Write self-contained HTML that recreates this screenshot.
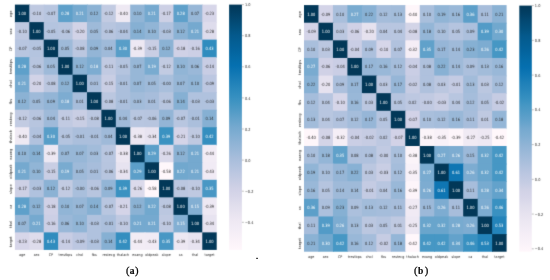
<!DOCTYPE html>
<html><head><meta charset="utf-8"><style>
html,body{margin:0;padding:0;background:#fff;}
body{width:550px;height:280px;overflow:hidden;}
svg{display:block;}
#w{width:550px;height:280px;}
.ann{font-family:"DejaVu Sans",sans-serif;font-size:40px;text-anchor:middle;stroke-width:0.000px;}
.lab{font-family:"DejaVu Sans",sans-serif;font-size:3.6px;fill:#262626;}
.xl{text-anchor:middle;}
.yl{text-anchor:middle;}
.cbl{font-family:"DejaVu Sans",sans-serif;font-size:3.9px;fill:#262626;}
.cap{font-family:"Liberation Serif",serif;font-weight:bold;font-size:10.9px;fill:#000;stroke:#000;stroke-width:0.15px;}
.par{font-family:"Liberation Serif",serif;font-size:10.6px;fill:#000;stroke:#000;stroke-width:0.25px;}
</style></head><body><div id="w">
<svg width="550" height="280" viewBox="0 0 550 280">
<defs><linearGradient id="gL" x1="0" y1="0" x2="0" y2="1"><stop offset="0.0000" stop-color="#023858"/><stop offset="0.0312" stop-color="#023f64"/><stop offset="0.0625" stop-color="#034871"/><stop offset="0.0938" stop-color="#03517e"/><stop offset="0.1250" stop-color="#04598c"/><stop offset="0.1562" stop-color="#045f95"/><stop offset="0.1875" stop-color="#04649e"/><stop offset="0.2188" stop-color="#056ba7"/><stop offset="0.2500" stop-color="#0570b0"/><stop offset="0.2812" stop-color="#1278b4"/><stop offset="0.3125" stop-color="#1e80b8"/><stop offset="0.3438" stop-color="#2a88bc"/><stop offset="0.3750" stop-color="#358fc0"/><stop offset="0.4062" stop-color="#4496c3"/><stop offset="0.4375" stop-color="#549cc7"/><stop offset="0.4688" stop-color="#65a3cb"/><stop offset="0.5000" stop-color="#75a9cf"/><stop offset="0.5312" stop-color="#81aed2"/><stop offset="0.5625" stop-color="#8eb3d5"/><stop offset="0.5938" stop-color="#9ab8d8"/><stop offset="0.6250" stop-color="#a7bddb"/><stop offset="0.6562" stop-color="#b1c2de"/><stop offset="0.6875" stop-color="#bcc7e1"/><stop offset="0.7188" stop-color="#c6cce3"/><stop offset="0.7500" stop-color="#d0d1e6"/><stop offset="0.7812" stop-color="#d7d6e9"/><stop offset="0.8125" stop-color="#dfddec"/><stop offset="0.8438" stop-color="#e6e2ef"/><stop offset="0.8750" stop-color="#ede7f2"/><stop offset="0.9062" stop-color="#f1ebf5"/><stop offset="0.9375" stop-color="#f6eff7"/><stop offset="0.9688" stop-color="#fbf3f9"/><stop offset="1.0000" stop-color="#fff7fb"/></linearGradient><linearGradient id="gR" x1="0" y1="0" x2="0" y2="1"><stop offset="0.0000" stop-color="#023858"/><stop offset="0.0312" stop-color="#023f64"/><stop offset="0.0625" stop-color="#034973"/><stop offset="0.0938" stop-color="#03517e"/><stop offset="0.1250" stop-color="#045a8d"/><stop offset="0.1562" stop-color="#045f95"/><stop offset="0.1875" stop-color="#04649e"/><stop offset="0.2188" stop-color="#056ba7"/><stop offset="0.2500" stop-color="#056faf"/><stop offset="0.2812" stop-color="#1077b4"/><stop offset="0.3125" stop-color="#1e80b8"/><stop offset="0.3438" stop-color="#2987bc"/><stop offset="0.3750" stop-color="#358fc0"/><stop offset="0.4062" stop-color="#4697c4"/><stop offset="0.4375" stop-color="#549cc7"/><stop offset="0.4688" stop-color="#63a2cb"/><stop offset="0.5000" stop-color="#75a9cf"/><stop offset="0.5312" stop-color="#80aed2"/><stop offset="0.5625" stop-color="#8eb3d5"/><stop offset="0.5938" stop-color="#9ab8d8"/><stop offset="0.6250" stop-color="#a5bddb"/><stop offset="0.6562" stop-color="#b1c2de"/><stop offset="0.6875" stop-color="#bcc7e1"/><stop offset="0.7188" stop-color="#c5cce3"/><stop offset="0.7500" stop-color="#d1d2e6"/><stop offset="0.7812" stop-color="#d7d6e9"/><stop offset="0.8125" stop-color="#dfddec"/><stop offset="0.8438" stop-color="#e6e2ef"/><stop offset="0.8750" stop-color="#ece7f2"/><stop offset="0.9062" stop-color="#f1ebf5"/><stop offset="0.9375" stop-color="#f6eff7"/><stop offset="0.9688" stop-color="#faf3f9"/><stop offset="1.0000" stop-color="#fff7fb"/></linearGradient><filter id="sf" x="0" y="0" width="550" height="280" filterUnits="userSpaceOnUse" color-interpolation-filters="sRGB"><feConvolveMatrix order="3" kernelMatrix="0.0100 0.0800 0.0100 0.0800 0.6400 0.0800 0.0100 0.0800 0.0100" edgeMode="duplicate"/></filter><filter id="tf" x="0" y="0" width="550" height="280" filterUnits="userSpaceOnUse" color-interpolation-filters="sRGB"><feConvolveMatrix order="3" kernelMatrix="0.0144 0.0912 0.0144 0.0912 0.5776 0.0912 0.0144 0.0912 0.0144" edgeMode="none"/></filter></defs>
<g filter="url(#sf)">
<rect width="550" height="280" fill="#fff"/>
<rect x="14.90" y="4.60" width="15.21" height="18.32" fill="#023858"/><rect x="29.31" y="4.60" width="15.21" height="18.32" fill="#bfc9e1"/><rect x="43.73" y="4.60" width="15.21" height="18.32" fill="#b8c6e0"/><rect x="58.14" y="4.60" width="15.21" height="18.32" fill="#5ea0ca"/><rect x="72.56" y="4.60" width="15.21" height="18.32" fill="#75a9cf"/><rect x="86.97" y="4.60" width="15.21" height="18.32" fill="#8bb2d4"/><rect x="101.39" y="4.60" width="15.21" height="18.32" fill="#c2cbe2"/><rect x="115.80" y="4.60" width="15.21" height="18.32" fill="#eee9f3"/><rect x="130.21" y="4.60" width="15.21" height="18.32" fill="#91b5d6"/><rect x="144.63" y="4.60" width="15.21" height="18.32" fill="#75a9cf"/><rect x="159.04" y="4.60" width="15.21" height="18.32" fill="#cdd0e5"/><rect x="173.46" y="4.60" width="15.21" height="18.32" fill="#5ea0ca"/><rect x="187.87" y="4.60" width="15.21" height="18.32" fill="#97b7d7"/><rect x="202.29" y="4.60" width="14.41" height="18.32" fill="#d7d6e9"/><rect x="14.90" y="22.12" width="15.21" height="18.32" fill="#bfc9e1"/><rect x="29.31" y="22.12" width="15.21" height="18.32" fill="#023858"/><rect x="43.73" y="22.12" width="15.21" height="18.32" fill="#b4c4df"/><rect x="58.14" y="22.12" width="15.21" height="18.32" fill="#b7c5df"/><rect x="72.56" y="22.12" width="15.21" height="18.32" fill="#d2d3e7"/><rect x="86.97" y="22.12" width="15.21" height="18.32" fill="#9ebad9"/><rect x="101.39" y="22.12" width="15.21" height="18.32" fill="#b7c5df"/><rect x="115.80" y="22.12" width="15.21" height="18.32" fill="#b1c2de"/><rect x="130.21" y="22.12" width="15.21" height="18.32" fill="#86b0d3"/><rect x="144.63" y="22.12" width="15.21" height="18.32" fill="#91b5d6"/><rect x="159.04" y="22.12" width="15.21" height="18.32" fill="#b0c2de"/><rect x="173.46" y="22.12" width="15.21" height="18.32" fill="#8bb2d4"/><rect x="187.87" y="22.12" width="15.21" height="18.32" fill="#75a9cf"/><rect x="202.29" y="22.12" width="14.41" height="18.32" fill="#dedcec"/><rect x="14.90" y="39.64" width="15.21" height="18.32" fill="#b8c6e0"/><rect x="29.31" y="39.64" width="15.21" height="18.32" fill="#b4c4df"/><rect x="43.73" y="39.64" width="15.21" height="18.32" fill="#023858"/><rect x="58.14" y="39.64" width="15.21" height="18.32" fill="#9ebad9"/><rect x="72.56" y="39.64" width="15.21" height="18.32" fill="#bbc7e0"/><rect x="86.97" y="39.64" width="15.21" height="18.32" fill="#93b5d6"/><rect x="101.39" y="39.64" width="15.21" height="18.32" fill="#9fbad9"/><rect x="115.80" y="39.64" width="15.21" height="18.32" fill="#589ec8"/><rect x="130.21" y="39.64" width="15.21" height="18.32" fill="#ede8f3"/><rect x="144.63" y="39.64" width="15.21" height="18.32" fill="#c9cee4"/><rect x="159.04" y="39.64" width="15.21" height="18.32" fill="#8bb2d4"/><rect x="173.46" y="39.64" width="15.21" height="18.32" fill="#d0d1e6"/><rect x="187.87" y="39.64" width="15.21" height="18.32" fill="#cccfe5"/><rect x="202.29" y="39.64" width="14.41" height="18.32" fill="#308cbe"/><rect x="14.90" y="57.16" width="15.21" height="18.32" fill="#5ea0ca"/><rect x="29.31" y="57.16" width="15.21" height="18.32" fill="#b7c5df"/><rect x="43.73" y="57.16" width="15.21" height="18.32" fill="#9ebad9"/><rect x="58.14" y="57.16" width="15.21" height="18.32" fill="#023858"/><rect x="72.56" y="57.16" width="15.21" height="18.32" fill="#8bb2d4"/><rect x="86.97" y="57.16" width="15.21" height="18.32" fill="#7dacd1"/><rect x="101.39" y="57.16" width="15.21" height="18.32" fill="#c1cae2"/><rect x="115.80" y="57.16" width="15.21" height="18.32" fill="#b4c4df"/><rect x="130.21" y="57.16" width="15.21" height="18.32" fill="#97b7d7"/><rect x="144.63" y="57.16" width="15.21" height="18.32" fill="#79abd0"/><rect x="159.04" y="57.16" width="15.21" height="18.32" fill="#c2cbe2"/><rect x="173.46" y="57.16" width="15.21" height="18.32" fill="#91b5d6"/><rect x="187.87" y="57.16" width="15.21" height="18.32" fill="#9ab8d8"/><rect x="202.29" y="57.16" width="14.41" height="18.32" fill="#c8cde4"/><rect x="14.90" y="74.69" width="15.21" height="18.32" fill="#75a9cf"/><rect x="29.31" y="74.69" width="15.21" height="18.32" fill="#d2d3e7"/><rect x="43.73" y="74.69" width="15.21" height="18.32" fill="#bbc7e0"/><rect x="58.14" y="74.69" width="15.21" height="18.32" fill="#8bb2d4"/><rect x="72.56" y="74.69" width="15.21" height="18.32" fill="#023858"/><rect x="86.97" y="74.69" width="15.21" height="18.32" fill="#a7bddb"/><rect x="101.39" y="74.69" width="15.21" height="18.32" fill="#c9cee4"/><rect x="115.80" y="74.69" width="15.21" height="18.32" fill="#abbfdc"/><rect x="130.21" y="74.69" width="15.21" height="18.32" fill="#97b7d7"/><rect x="144.63" y="74.69" width="15.21" height="18.32" fill="#9ebad9"/><rect x="159.04" y="74.69" width="15.21" height="18.32" fill="#a9bfdc"/><rect x="173.46" y="74.69" width="15.21" height="18.32" fill="#97b7d7"/><rect x="187.87" y="74.69" width="15.21" height="18.32" fill="#91b5d6"/><rect x="202.29" y="74.69" width="14.41" height="18.32" fill="#bcc7e1"/><rect x="14.90" y="92.21" width="15.21" height="18.32" fill="#8bb2d4"/><rect x="29.31" y="92.21" width="15.21" height="18.32" fill="#9ebad9"/><rect x="43.73" y="92.21" width="15.21" height="18.32" fill="#93b5d6"/><rect x="58.14" y="92.21" width="15.21" height="18.32" fill="#7dacd1"/><rect x="72.56" y="92.21" width="15.21" height="18.32" fill="#a7bddb"/><rect x="86.97" y="92.21" width="15.21" height="18.32" fill="#023858"/><rect x="101.39" y="92.21" width="15.21" height="18.32" fill="#bbc7e0"/><rect x="115.80" y="92.21" width="15.21" height="18.32" fill="#abbfdc"/><rect x="130.21" y="92.21" width="15.21" height="18.32" fill="#a2bcda"/><rect x="144.63" y="92.21" width="15.21" height="18.32" fill="#a7bddb"/><rect x="159.04" y="92.21" width="15.21" height="18.32" fill="#b7c5df"/><rect x="173.46" y="92.21" width="15.21" height="18.32" fill="#86b0d3"/><rect x="187.87" y="92.21" width="15.21" height="18.32" fill="#b0c2de"/><rect x="202.29" y="92.21" width="14.41" height="18.32" fill="#b0c2de"/><rect x="14.90" y="109.73" width="15.21" height="18.32" fill="#c2cbe2"/><rect x="29.31" y="109.73" width="15.21" height="18.32" fill="#b7c5df"/><rect x="43.73" y="109.73" width="15.21" height="18.32" fill="#9fbad9"/><rect x="58.14" y="109.73" width="15.21" height="18.32" fill="#c1cae2"/><rect x="72.56" y="109.73" width="15.21" height="18.32" fill="#c9cee4"/><rect x="86.97" y="109.73" width="15.21" height="18.32" fill="#bbc7e0"/><rect x="101.39" y="109.73" width="15.21" height="18.32" fill="#023858"/><rect x="115.80" y="109.73" width="15.21" height="18.32" fill="#9fbad9"/><rect x="130.21" y="109.73" width="15.21" height="18.32" fill="#b8c6e0"/><rect x="144.63" y="109.73" width="15.21" height="18.32" fill="#b7c5df"/><rect x="159.04" y="109.73" width="15.21" height="18.32" fill="#93b5d6"/><rect x="173.46" y="109.73" width="15.21" height="18.32" fill="#b8c6e0"/><rect x="187.87" y="109.73" width="15.21" height="18.32" fill="#abbfdc"/><rect x="202.29" y="109.73" width="14.41" height="18.32" fill="#86b0d3"/><rect x="14.90" y="127.25" width="15.21" height="18.32" fill="#eee9f3"/><rect x="29.31" y="127.25" width="15.21" height="18.32" fill="#b1c2de"/><rect x="43.73" y="127.25" width="15.21" height="18.32" fill="#589ec8"/><rect x="58.14" y="127.25" width="15.21" height="18.32" fill="#b4c4df"/><rect x="72.56" y="127.25" width="15.21" height="18.32" fill="#abbfdc"/><rect x="86.97" y="127.25" width="15.21" height="18.32" fill="#abbfdc"/><rect x="101.39" y="127.25" width="15.21" height="18.32" fill="#9fbad9"/><rect x="115.80" y="127.25" width="15.21" height="18.32" fill="#023858"/><rect x="130.21" y="127.25" width="15.21" height="18.32" fill="#ece7f2"/><rect x="144.63" y="127.25" width="15.21" height="18.32" fill="#e7e3f0"/><rect x="159.04" y="127.25" width="15.21" height="18.32" fill="#3b92c1"/><rect x="173.46" y="127.25" width="15.21" height="18.32" fill="#d4d4e8"/><rect x="187.87" y="127.25" width="15.21" height="18.32" fill="#bfc9e1"/><rect x="202.29" y="127.25" width="14.41" height="18.32" fill="#348ebf"/><rect x="14.90" y="144.77" width="15.21" height="18.32" fill="#91b5d6"/><rect x="29.31" y="144.77" width="15.21" height="18.32" fill="#86b0d3"/><rect x="43.73" y="144.77" width="15.21" height="18.32" fill="#ede8f3"/><rect x="58.14" y="144.77" width="15.21" height="18.32" fill="#97b7d7"/><rect x="72.56" y="144.77" width="15.21" height="18.32" fill="#97b7d7"/><rect x="86.97" y="144.77" width="15.21" height="18.32" fill="#a2bcda"/><rect x="101.39" y="144.77" width="15.21" height="18.32" fill="#b8c6e0"/><rect x="115.80" y="144.77" width="15.21" height="18.32" fill="#ece7f2"/><rect x="130.21" y="144.77" width="15.21" height="18.32" fill="#023858"/><rect x="144.63" y="144.77" width="15.21" height="18.32" fill="#5c9fc9"/><rect x="159.04" y="144.77" width="15.21" height="18.32" fill="#dbdaeb"/><rect x="173.46" y="144.77" width="15.21" height="18.32" fill="#8bb2d4"/><rect x="187.87" y="144.77" width="15.21" height="18.32" fill="#75a9cf"/><rect x="202.29" y="144.77" width="14.41" height="18.32" fill="#f2ecf5"/><rect x="14.90" y="162.29" width="15.21" height="18.32" fill="#75a9cf"/><rect x="29.31" y="162.29" width="15.21" height="18.32" fill="#91b5d6"/><rect x="43.73" y="162.29" width="15.21" height="18.32" fill="#c9cee4"/><rect x="58.14" y="162.29" width="15.21" height="18.32" fill="#79abd0"/><rect x="72.56" y="162.29" width="15.21" height="18.32" fill="#9ebad9"/><rect x="86.97" y="162.29" width="15.21" height="18.32" fill="#a7bddb"/><rect x="101.39" y="162.29" width="15.21" height="18.32" fill="#b7c5df"/><rect x="115.80" y="162.29" width="15.21" height="18.32" fill="#e7e3f0"/><rect x="130.21" y="162.29" width="15.21" height="18.32" fill="#5c9fc9"/><rect x="144.63" y="162.29" width="15.21" height="18.32" fill="#023858"/><rect x="159.04" y="162.29" width="15.21" height="18.32" fill="#fff7fb"/><rect x="173.46" y="162.29" width="15.21" height="18.32" fill="#71a8ce"/><rect x="187.87" y="162.29" width="15.21" height="18.32" fill="#75a9cf"/><rect x="202.29" y="162.29" width="14.41" height="18.32" fill="#f1ebf5"/><rect x="14.90" y="179.81" width="15.21" height="18.32" fill="#cdd0e5"/><rect x="29.31" y="179.81" width="15.21" height="18.32" fill="#b0c2de"/><rect x="43.73" y="179.81" width="15.21" height="18.32" fill="#8bb2d4"/><rect x="58.14" y="179.81" width="15.21" height="18.32" fill="#c2cbe2"/><rect x="72.56" y="179.81" width="15.21" height="18.32" fill="#a9bfdc"/><rect x="86.97" y="179.81" width="15.21" height="18.32" fill="#b7c5df"/><rect x="101.39" y="179.81" width="15.21" height="18.32" fill="#93b5d6"/><rect x="115.80" y="179.81" width="15.21" height="18.32" fill="#3b92c1"/><rect x="130.21" y="179.81" width="15.21" height="18.32" fill="#dbdaeb"/><rect x="144.63" y="179.81" width="15.21" height="18.32" fill="#fff7fb"/><rect x="159.04" y="179.81" width="15.21" height="18.32" fill="#023858"/><rect x="173.46" y="179.81" width="15.21" height="18.32" fill="#bbc7e0"/><rect x="187.87" y="179.81" width="15.21" height="18.32" fill="#bfc9e1"/><rect x="202.29" y="179.81" width="14.41" height="18.32" fill="#4897c4"/><rect x="14.90" y="197.34" width="15.21" height="18.32" fill="#5ea0ca"/><rect x="29.31" y="197.34" width="15.21" height="18.32" fill="#8bb2d4"/><rect x="43.73" y="197.34" width="15.21" height="18.32" fill="#d0d1e6"/><rect x="58.14" y="197.34" width="15.21" height="18.32" fill="#91b5d6"/><rect x="72.56" y="197.34" width="15.21" height="18.32" fill="#97b7d7"/><rect x="86.97" y="197.34" width="15.21" height="18.32" fill="#86b0d3"/><rect x="101.39" y="197.34" width="15.21" height="18.32" fill="#b8c6e0"/><rect x="115.80" y="197.34" width="15.21" height="18.32" fill="#d4d4e8"/><rect x="130.21" y="197.34" width="15.21" height="18.32" fill="#8bb2d4"/><rect x="144.63" y="197.34" width="15.21" height="18.32" fill="#71a8ce"/><rect x="159.04" y="197.34" width="15.21" height="18.32" fill="#bbc7e0"/><rect x="173.46" y="197.34" width="15.21" height="18.32" fill="#023858"/><rect x="187.87" y="197.34" width="15.21" height="18.32" fill="#83afd3"/><rect x="202.29" y="197.34" width="14.41" height="18.32" fill="#ede8f3"/><rect x="14.90" y="214.86" width="15.21" height="18.32" fill="#97b7d7"/><rect x="29.31" y="214.86" width="15.21" height="18.32" fill="#75a9cf"/><rect x="43.73" y="214.86" width="15.21" height="18.32" fill="#cccfe5"/><rect x="58.14" y="214.86" width="15.21" height="18.32" fill="#9ab8d8"/><rect x="72.56" y="214.86" width="15.21" height="18.32" fill="#91b5d6"/><rect x="86.97" y="214.86" width="15.21" height="18.32" fill="#b0c2de"/><rect x="101.39" y="214.86" width="15.21" height="18.32" fill="#abbfdc"/><rect x="115.80" y="214.86" width="15.21" height="18.32" fill="#bfc9e1"/><rect x="130.21" y="214.86" width="15.21" height="18.32" fill="#75a9cf"/><rect x="144.63" y="214.86" width="15.21" height="18.32" fill="#75a9cf"/><rect x="159.04" y="214.86" width="15.21" height="18.32" fill="#bfc9e1"/><rect x="173.46" y="214.86" width="15.21" height="18.32" fill="#83afd3"/><rect x="187.87" y="214.86" width="15.21" height="18.32" fill="#023858"/><rect x="202.29" y="214.86" width="14.41" height="18.32" fill="#e7e3f0"/><rect x="14.90" y="232.38" width="15.21" height="17.52" fill="#d7d6e9"/><rect x="29.31" y="232.38" width="15.21" height="17.52" fill="#dedcec"/><rect x="43.73" y="232.38" width="15.21" height="17.52" fill="#308cbe"/><rect x="58.14" y="232.38" width="15.21" height="17.52" fill="#c8cde4"/><rect x="72.56" y="232.38" width="15.21" height="17.52" fill="#bcc7e1"/><rect x="86.97" y="232.38" width="15.21" height="17.52" fill="#b0c2de"/><rect x="101.39" y="232.38" width="15.21" height="17.52" fill="#86b0d3"/><rect x="115.80" y="232.38" width="15.21" height="17.52" fill="#348ebf"/><rect x="130.21" y="232.38" width="15.21" height="17.52" fill="#f2ecf5"/><rect x="144.63" y="232.38" width="15.21" height="17.52" fill="#f1ebf5"/><rect x="159.04" y="232.38" width="15.21" height="17.52" fill="#4897c4"/><rect x="173.46" y="232.38" width="15.21" height="17.52" fill="#ede8f3"/><rect x="187.87" y="232.38" width="15.21" height="17.52" fill="#e7e3f0"/><rect x="202.29" y="232.38" width="14.41" height="17.52" fill="#023858"/><rect x="229.10" y="4.60" width="12.80" height="245.30" fill="url(#gL)"/>
<rect x="304.00" y="5.10" width="15.27" height="18.41" fill="#023858"/><rect x="318.47" y="5.10" width="15.27" height="18.41" fill="#d4d4e8"/><rect x="332.94" y="5.10" width="15.27" height="18.41" fill="#a9bfdc"/><rect x="347.41" y="5.10" width="15.27" height="18.41" fill="#79abd0"/><rect x="361.89" y="5.10" width="15.27" height="18.41" fill="#88b1d4"/><rect x="376.36" y="5.10" width="15.27" height="18.41" fill="#a5bddb"/><rect x="390.83" y="5.10" width="15.27" height="18.41" fill="#a2bcda"/><rect x="405.30" y="5.10" width="15.27" height="18.41" fill="#fef6fa"/><rect x="419.77" y="5.10" width="15.27" height="18.41" fill="#a9bfdc"/><rect x="434.24" y="5.10" width="15.27" height="18.41" fill="#91b5d6"/><rect x="448.71" y="5.10" width="15.27" height="18.41" fill="#99b8d8"/><rect x="463.19" y="5.10" width="15.27" height="18.41" fill="#5c9fc9"/><rect x="477.66" y="5.10" width="15.27" height="18.41" fill="#a7bddb"/><rect x="492.13" y="5.10" width="14.47" height="18.41" fill="#8bb2d4"/><rect x="304.00" y="22.71" width="15.27" height="18.41" fill="#d4d4e8"/><rect x="318.47" y="22.71" width="15.27" height="18.41" fill="#023858"/><rect x="332.94" y="22.71" width="15.27" height="18.41" fill="#bbc7e0"/><rect x="347.41" y="22.71" width="15.27" height="18.41" fill="#d0d1e6"/><rect x="361.89" y="22.71" width="15.27" height="18.41" fill="#e6e2ef"/><rect x="376.36" y="22.71" width="15.27" height="18.41" fill="#b8c6e0"/><rect x="390.83" y="22.71" width="15.27" height="18.41" fill="#b8c6e0"/><rect x="405.30" y="22.71" width="15.27" height="18.41" fill="#d3d4e7"/><rect x="419.77" y="22.71" width="15.27" height="18.41" fill="#94b6d7"/><rect x="434.24" y="22.71" width="15.27" height="18.41" fill="#a9bfdc"/><rect x="448.71" y="22.71" width="15.27" height="18.41" fill="#b5c4df"/><rect x="463.19" y="22.71" width="15.27" height="18.41" fill="#acc0dd"/><rect x="477.66" y="22.71" width="15.27" height="18.41" fill="#529bc7"/><rect x="492.13" y="22.71" width="14.47" height="18.41" fill="#71a8ce"/><rect x="304.00" y="40.33" width="15.27" height="18.41" fill="#a9bfdc"/><rect x="318.47" y="40.33" width="15.27" height="18.41" fill="#bbc7e0"/><rect x="332.94" y="40.33" width="15.27" height="18.41" fill="#023858"/><rect x="347.41" y="40.33" width="15.27" height="18.41" fill="#cacee5"/><rect x="361.89" y="40.33" width="15.27" height="18.41" fill="#acc0dd"/><rect x="376.36" y="40.33" width="15.27" height="18.41" fill="#d6d6e9"/><rect x="390.83" y="40.33" width="15.27" height="18.41" fill="#b1c2de"/><rect x="405.30" y="40.33" width="15.27" height="18.41" fill="#f5eef6"/><rect x="419.77" y="40.33" width="15.27" height="18.41" fill="#60a1ca"/><rect x="434.24" y="40.33" width="15.27" height="18.41" fill="#96b6d7"/><rect x="448.71" y="40.33" width="15.27" height="18.41" fill="#9fbad9"/><rect x="463.19" y="40.33" width="15.27" height="18.41" fill="#86b0d3"/><rect x="477.66" y="40.33" width="15.27" height="18.41" fill="#7dacd1"/><rect x="492.13" y="40.33" width="14.47" height="18.41" fill="#4697c4"/><rect x="304.00" y="57.94" width="15.27" height="18.41" fill="#79abd0"/><rect x="318.47" y="57.94" width="15.27" height="18.41" fill="#d0d1e6"/><rect x="332.94" y="57.94" width="15.27" height="18.41" fill="#cacee5"/><rect x="347.41" y="57.94" width="15.27" height="18.41" fill="#023858"/><rect x="361.89" y="57.94" width="15.27" height="18.41" fill="#96b6d7"/><rect x="376.36" y="57.94" width="15.27" height="18.41" fill="#99b8d8"/><rect x="390.83" y="57.94" width="15.27" height="18.41" fill="#a5bddb"/><rect x="405.30" y="57.94" width="15.27" height="18.41" fill="#cacee5"/><rect x="419.77" y="57.94" width="15.27" height="18.41" fill="#afc1dd"/><rect x="434.24" y="57.94" width="15.27" height="18.41" fill="#88b1d4"/><rect x="448.71" y="57.94" width="15.27" height="18.41" fill="#9fbad9"/><rect x="463.19" y="57.94" width="15.27" height="18.41" fill="#acc0dd"/><rect x="477.66" y="57.94" width="15.27" height="18.41" fill="#a2bcda"/><rect x="492.13" y="57.94" width="14.47" height="18.41" fill="#99b8d8"/><rect x="304.00" y="75.56" width="15.27" height="18.41" fill="#88b1d4"/><rect x="318.47" y="75.56" width="15.27" height="18.41" fill="#e6e2ef"/><rect x="332.94" y="75.56" width="15.27" height="18.41" fill="#acc0dd"/><rect x="347.41" y="75.56" width="15.27" height="18.41" fill="#96b6d7"/><rect x="361.89" y="75.56" width="15.27" height="18.41" fill="#023858"/><rect x="376.36" y="75.56" width="15.27" height="18.41" fill="#bbc7e0"/><rect x="390.83" y="75.56" width="15.27" height="18.41" fill="#96b6d7"/><rect x="405.30" y="75.56" width="15.27" height="18.41" fill="#c6cce3"/><rect x="419.77" y="75.56" width="15.27" height="18.41" fill="#afc1dd"/><rect x="434.24" y="75.56" width="15.27" height="18.41" fill="#bbc7e0"/><rect x="448.71" y="75.56" width="15.27" height="18.41" fill="#c4cbe3"/><rect x="463.19" y="75.56" width="15.27" height="18.41" fill="#a2bcda"/><rect x="477.66" y="75.56" width="15.27" height="18.41" fill="#bbc7e0"/><rect x="492.13" y="75.56" width="14.47" height="18.41" fill="#a5bddb"/><rect x="304.00" y="93.17" width="15.27" height="18.41" fill="#a5bddb"/><rect x="318.47" y="93.17" width="15.27" height="18.41" fill="#b8c6e0"/><rect x="332.94" y="93.17" width="15.27" height="18.41" fill="#d6d6e9"/><rect x="347.41" y="93.17" width="15.27" height="18.41" fill="#99b8d8"/><rect x="361.89" y="93.17" width="15.27" height="18.41" fill="#bbc7e0"/><rect x="376.36" y="93.17" width="15.27" height="18.41" fill="#023858"/><rect x="390.83" y="93.17" width="15.27" height="18.41" fill="#b5c4df"/><rect x="405.30" y="93.17" width="15.27" height="18.41" fill="#bdc8e1"/><rect x="419.77" y="93.17" width="15.27" height="18.41" fill="#c1cae2"/><rect x="434.24" y="93.17" width="15.27" height="18.41" fill="#c9cee4"/><rect x="448.71" y="93.17" width="15.27" height="18.41" fill="#b8c6e0"/><rect x="463.19" y="93.17" width="15.27" height="18.41" fill="#a5bddb"/><rect x="477.66" y="93.17" width="15.27" height="18.41" fill="#b5c4df"/><rect x="492.13" y="93.17" width="14.47" height="18.41" fill="#c6cce3"/><rect x="304.00" y="110.79" width="15.27" height="18.41" fill="#a2bcda"/><rect x="318.47" y="110.79" width="15.27" height="18.41" fill="#b8c6e0"/><rect x="332.94" y="110.79" width="15.27" height="18.41" fill="#b1c2de"/><rect x="347.41" y="110.79" width="15.27" height="18.41" fill="#a5bddb"/><rect x="361.89" y="110.79" width="15.27" height="18.41" fill="#96b6d7"/><rect x="376.36" y="110.79" width="15.27" height="18.41" fill="#b5c4df"/><rect x="390.83" y="110.79" width="15.27" height="18.41" fill="#023858"/><rect x="405.30" y="110.79" width="15.27" height="18.41" fill="#d2d2e7"/><rect x="419.77" y="110.79" width="15.27" height="18.41" fill="#a9bfdc"/><rect x="434.24" y="110.79" width="15.27" height="18.41" fill="#a5bddb"/><rect x="448.71" y="110.79" width="15.27" height="18.41" fill="#99b8d8"/><rect x="463.19" y="110.79" width="15.27" height="18.41" fill="#a7bddb"/><rect x="477.66" y="110.79" width="15.27" height="18.41" fill="#bfc9e1"/><rect x="492.13" y="110.79" width="14.47" height="18.41" fill="#94b6d7"/><rect x="304.00" y="128.40" width="15.27" height="18.41" fill="#fef6fa"/><rect x="318.47" y="128.40" width="15.27" height="18.41" fill="#d3d4e7"/><rect x="332.94" y="128.40" width="15.27" height="18.41" fill="#f5eef6"/><rect x="347.41" y="128.40" width="15.27" height="18.41" fill="#cacee5"/><rect x="361.89" y="128.40" width="15.27" height="18.41" fill="#c6cce3"/><rect x="376.36" y="128.40" width="15.27" height="18.41" fill="#bdc8e1"/><rect x="390.83" y="128.40" width="15.27" height="18.41" fill="#d2d2e7"/><rect x="405.30" y="128.40" width="15.27" height="18.41" fill="#023858"/><rect x="419.77" y="128.40" width="15.27" height="18.41" fill="#fbf4f9"/><rect x="434.24" y="128.40" width="15.27" height="18.41" fill="#f8f1f8"/><rect x="448.71" y="128.40" width="15.27" height="18.41" fill="#fdf5fa"/><rect x="463.19" y="128.40" width="15.27" height="18.41" fill="#f0eaf4"/><rect x="477.66" y="128.40" width="15.27" height="18.41" fill="#ede8f3"/><rect x="492.13" y="128.40" width="14.47" height="18.41" fill="#fff7fb"/><rect x="304.00" y="146.01" width="15.27" height="18.41" fill="#a9bfdc"/><rect x="318.47" y="146.01" width="15.27" height="18.41" fill="#94b6d7"/><rect x="332.94" y="146.01" width="15.27" height="18.41" fill="#60a1ca"/><rect x="347.41" y="146.01" width="15.27" height="18.41" fill="#afc1dd"/><rect x="361.89" y="146.01" width="15.27" height="18.41" fill="#afc1dd"/><rect x="376.36" y="146.01" width="15.27" height="18.41" fill="#c1cae2"/><rect x="390.83" y="146.01" width="15.27" height="18.41" fill="#a9bfdc"/><rect x="405.30" y="146.01" width="15.27" height="18.41" fill="#fbf4f9"/><rect x="419.77" y="146.01" width="15.27" height="18.41" fill="#023858"/><rect x="434.24" y="146.01" width="15.27" height="18.41" fill="#79abd0"/><rect x="448.71" y="146.01" width="15.27" height="18.41" fill="#7dacd1"/><rect x="463.19" y="146.01" width="15.27" height="18.41" fill="#9cb9d9"/><rect x="477.66" y="146.01" width="15.27" height="18.41" fill="#69a5cc"/><rect x="492.13" y="146.01" width="14.47" height="18.41" fill="#4697c4"/><rect x="304.00" y="163.63" width="15.27" height="18.41" fill="#91b5d6"/><rect x="318.47" y="163.63" width="15.27" height="18.41" fill="#a9bfdc"/><rect x="332.94" y="163.63" width="15.27" height="18.41" fill="#96b6d7"/><rect x="347.41" y="163.63" width="15.27" height="18.41" fill="#88b1d4"/><rect x="361.89" y="163.63" width="15.27" height="18.41" fill="#bbc7e0"/><rect x="376.36" y="163.63" width="15.27" height="18.41" fill="#c9cee4"/><rect x="390.83" y="163.63" width="15.27" height="18.41" fill="#a5bddb"/><rect x="405.30" y="163.63" width="15.27" height="18.41" fill="#f8f1f8"/><rect x="419.77" y="163.63" width="15.27" height="18.41" fill="#79abd0"/><rect x="434.24" y="163.63" width="15.27" height="18.41" fill="#023858"/><rect x="448.71" y="163.63" width="15.27" height="18.41" fill="#0f76b3"/><rect x="463.19" y="163.63" width="15.27" height="18.41" fill="#7dacd1"/><rect x="477.66" y="163.63" width="15.27" height="18.41" fill="#69a5cc"/><rect x="492.13" y="163.63" width="14.47" height="18.41" fill="#4697c4"/><rect x="304.00" y="181.24" width="15.27" height="18.41" fill="#99b8d8"/><rect x="318.47" y="181.24" width="15.27" height="18.41" fill="#b5c4df"/><rect x="332.94" y="181.24" width="15.27" height="18.41" fill="#9fbad9"/><rect x="347.41" y="181.24" width="15.27" height="18.41" fill="#9fbad9"/><rect x="361.89" y="181.24" width="15.27" height="18.41" fill="#c4cbe3"/><rect x="376.36" y="181.24" width="15.27" height="18.41" fill="#b8c6e0"/><rect x="390.83" y="181.24" width="15.27" height="18.41" fill="#99b8d8"/><rect x="405.30" y="181.24" width="15.27" height="18.41" fill="#fdf5fa"/><rect x="419.77" y="181.24" width="15.27" height="18.41" fill="#7dacd1"/><rect x="434.24" y="181.24" width="15.27" height="18.41" fill="#0f76b3"/><rect x="448.71" y="181.24" width="15.27" height="18.41" fill="#023858"/><rect x="463.19" y="181.24" width="15.27" height="18.41" fill="#a7bddb"/><rect x="477.66" y="181.24" width="15.27" height="18.41" fill="#78abd0"/><rect x="492.13" y="181.24" width="14.47" height="18.41" fill="#63a2cb"/><rect x="304.00" y="198.86" width="15.27" height="18.41" fill="#5c9fc9"/><rect x="318.47" y="198.86" width="15.27" height="18.41" fill="#acc0dd"/><rect x="332.94" y="198.86" width="15.27" height="18.41" fill="#86b0d3"/><rect x="347.41" y="198.86" width="15.27" height="18.41" fill="#acc0dd"/><rect x="361.89" y="198.86" width="15.27" height="18.41" fill="#a2bcda"/><rect x="376.36" y="198.86" width="15.27" height="18.41" fill="#a5bddb"/><rect x="390.83" y="198.86" width="15.27" height="18.41" fill="#a7bddb"/><rect x="405.30" y="198.86" width="15.27" height="18.41" fill="#f0eaf4"/><rect x="419.77" y="198.86" width="15.27" height="18.41" fill="#9cb9d9"/><rect x="434.24" y="198.86" width="15.27" height="18.41" fill="#7dacd1"/><rect x="448.71" y="198.86" width="15.27" height="18.41" fill="#a7bddb"/><rect x="463.19" y="198.86" width="15.27" height="18.41" fill="#023858"/><rect x="477.66" y="198.86" width="15.27" height="18.41" fill="#7dacd1"/><rect x="492.13" y="198.86" width="14.47" height="18.41" fill="#3991c1"/><rect x="304.00" y="216.47" width="15.27" height="18.41" fill="#a7bddb"/><rect x="318.47" y="216.47" width="15.27" height="18.41" fill="#529bc7"/><rect x="332.94" y="216.47" width="15.27" height="18.41" fill="#7dacd1"/><rect x="347.41" y="216.47" width="15.27" height="18.41" fill="#a2bcda"/><rect x="361.89" y="216.47" width="15.27" height="18.41" fill="#bbc7e0"/><rect x="376.36" y="216.47" width="15.27" height="18.41" fill="#b5c4df"/><rect x="390.83" y="216.47" width="15.27" height="18.41" fill="#bfc9e1"/><rect x="405.30" y="216.47" width="15.27" height="18.41" fill="#ede8f3"/><rect x="419.77" y="216.47" width="15.27" height="18.41" fill="#69a5cc"/><rect x="434.24" y="216.47" width="15.27" height="18.41" fill="#69a5cc"/><rect x="448.71" y="216.47" width="15.27" height="18.41" fill="#78abd0"/><rect x="463.19" y="216.47" width="15.27" height="18.41" fill="#7dacd1"/><rect x="477.66" y="216.47" width="15.27" height="18.41" fill="#023858"/><rect x="492.13" y="216.47" width="14.47" height="18.41" fill="#2484ba"/><rect x="304.00" y="234.09" width="15.27" height="17.61" fill="#8bb2d4"/><rect x="318.47" y="234.09" width="15.27" height="17.61" fill="#71a8ce"/><rect x="332.94" y="234.09" width="15.27" height="17.61" fill="#4697c4"/><rect x="347.41" y="234.09" width="15.27" height="17.61" fill="#99b8d8"/><rect x="361.89" y="234.09" width="15.27" height="17.61" fill="#a5bddb"/><rect x="376.36" y="234.09" width="15.27" height="17.61" fill="#c6cce3"/><rect x="390.83" y="234.09" width="15.27" height="17.61" fill="#94b6d7"/><rect x="405.30" y="234.09" width="15.27" height="17.61" fill="#fff7fb"/><rect x="419.77" y="234.09" width="15.27" height="17.61" fill="#4697c4"/><rect x="434.24" y="234.09" width="15.27" height="17.61" fill="#4697c4"/><rect x="448.71" y="234.09" width="15.27" height="17.61" fill="#63a2cb"/><rect x="463.19" y="234.09" width="15.27" height="17.61" fill="#3991c1"/><rect x="477.66" y="234.09" width="15.27" height="17.61" fill="#2484ba"/><rect x="492.13" y="234.09" width="14.47" height="17.61" fill="#023858"/><rect x="519.30" y="5.60" width="12.50" height="246.10" fill="url(#gR)"/>
</g>
<g filter="url(#tf)">
<g class="ann"><text transform="translate(22.11,15.06) scale(0.0902,0.1100)" fill="#ffffff" stroke="#ffffff">1.00</text><text transform="translate(36.52,15.06) scale(0.0902,0.1100)" fill="#262626" stroke="#262626">-0.10</text><text transform="translate(50.94,15.06) scale(0.0902,0.1100)" fill="#262626" stroke="#262626">-0.07</text><text transform="translate(65.35,15.06) scale(0.0902,0.1100)" fill="#ffffff" stroke="#ffffff">0.28</text><text transform="translate(79.76,15.06) scale(0.0902,0.1100)" fill="#ffffff" stroke="#ffffff">0.21</text><text transform="translate(94.18,15.06) scale(0.0902,0.1100)" fill="#262626" stroke="#262626">0.12</text><text transform="translate(108.59,15.06) scale(0.0902,0.1100)" fill="#262626" stroke="#262626">-0.12</text><text transform="translate(123.01,15.06) scale(0.0902,0.1100)" fill="#262626" stroke="#262626">-0.40</text><text transform="translate(137.42,15.06) scale(0.0902,0.1100)" fill="#262626" stroke="#262626">0.10</text><text transform="translate(151.84,15.06) scale(0.0902,0.1100)" fill="#ffffff" stroke="#ffffff">0.21</text><text transform="translate(166.25,15.06) scale(0.0902,0.1100)" fill="#262626" stroke="#262626">-0.17</text><text transform="translate(180.66,15.06) scale(0.0902,0.1100)" fill="#ffffff" stroke="#ffffff">0.28</text><text transform="translate(195.08,15.06) scale(0.0902,0.1100)" fill="#262626" stroke="#262626">0.07</text><text transform="translate(209.49,15.06) scale(0.0902,0.1100)" fill="#262626" stroke="#262626">-0.23</text><text transform="translate(22.11,32.59) scale(0.0902,0.1100)" fill="#262626" stroke="#262626">-0.10</text><text transform="translate(36.52,32.59) scale(0.0902,0.1100)" fill="#ffffff" stroke="#ffffff">1.00</text><text transform="translate(50.94,32.59) scale(0.0902,0.1100)" fill="#262626" stroke="#262626">-0.05</text><text transform="translate(65.35,32.59) scale(0.0902,0.1100)" fill="#262626" stroke="#262626">-0.06</text><text transform="translate(79.76,32.59) scale(0.0902,0.1100)" fill="#262626" stroke="#262626">-0.20</text><text transform="translate(94.18,32.59) scale(0.0902,0.1100)" fill="#262626" stroke="#262626">0.05</text><text transform="translate(108.59,32.59) scale(0.0902,0.1100)" fill="#262626" stroke="#262626">-0.06</text><text transform="translate(123.01,32.59) scale(0.0902,0.1100)" fill="#262626" stroke="#262626">-0.04</text><text transform="translate(137.42,32.59) scale(0.0902,0.1100)" fill="#262626" stroke="#262626">0.14</text><text transform="translate(151.84,32.59) scale(0.0902,0.1100)" fill="#262626" stroke="#262626">0.10</text><text transform="translate(166.25,32.59) scale(0.0902,0.1100)" fill="#262626" stroke="#262626">-0.03</text><text transform="translate(180.66,32.59) scale(0.0902,0.1100)" fill="#262626" stroke="#262626">0.12</text><text transform="translate(195.08,32.59) scale(0.0902,0.1100)" fill="#ffffff" stroke="#ffffff">0.21</text><text transform="translate(209.49,32.59) scale(0.0902,0.1100)" fill="#262626" stroke="#262626">-0.28</text><text transform="translate(22.11,50.11) scale(0.0902,0.1100)" fill="#262626" stroke="#262626">-0.07</text><text transform="translate(36.52,50.11) scale(0.0902,0.1100)" fill="#262626" stroke="#262626">-0.05</text><text transform="translate(50.94,50.11) scale(0.0902,0.1100)" fill="#ffffff" stroke="#ffffff">1.00</text><text transform="translate(65.35,50.11) scale(0.0902,0.1100)" fill="#262626" stroke="#262626">0.05</text><text transform="translate(79.76,50.11) scale(0.0902,0.1100)" fill="#262626" stroke="#262626">-0.08</text><text transform="translate(94.18,50.11) scale(0.0902,0.1100)" fill="#262626" stroke="#262626">0.09</text><text transform="translate(108.59,50.11) scale(0.0902,0.1100)" fill="#262626" stroke="#262626">0.04</text><text transform="translate(123.01,50.11) scale(0.0902,0.1100)" fill="#ffffff" stroke="#ffffff">0.30</text><text transform="translate(137.42,50.11) scale(0.0902,0.1100)" fill="#262626" stroke="#262626">-0.39</text><text transform="translate(151.84,50.11) scale(0.0902,0.1100)" fill="#262626" stroke="#262626">-0.15</text><text transform="translate(166.25,50.11) scale(0.0902,0.1100)" fill="#262626" stroke="#262626">0.12</text><text transform="translate(180.66,50.11) scale(0.0902,0.1100)" fill="#262626" stroke="#262626">-0.18</text><text transform="translate(195.08,50.11) scale(0.0902,0.1100)" fill="#262626" stroke="#262626">-0.16</text><text transform="translate(209.49,50.11) scale(0.0902,0.1100)" fill="#ffffff" stroke="#ffffff">0.43</text><text transform="translate(22.11,67.63) scale(0.0902,0.1100)" fill="#ffffff" stroke="#ffffff">0.28</text><text transform="translate(36.52,67.63) scale(0.0902,0.1100)" fill="#262626" stroke="#262626">-0.06</text><text transform="translate(50.94,67.63) scale(0.0902,0.1100)" fill="#262626" stroke="#262626">0.05</text><text transform="translate(65.35,67.63) scale(0.0902,0.1100)" fill="#ffffff" stroke="#ffffff">1.00</text><text transform="translate(79.76,67.63) scale(0.0902,0.1100)" fill="#262626" stroke="#262626">0.12</text><text transform="translate(94.18,67.63) scale(0.0902,0.1100)" fill="#ffffff" stroke="#ffffff">0.18</text><text transform="translate(108.59,67.63) scale(0.0902,0.1100)" fill="#262626" stroke="#262626">-0.11</text><text transform="translate(123.01,67.63) scale(0.0902,0.1100)" fill="#262626" stroke="#262626">-0.05</text><text transform="translate(137.42,67.63) scale(0.0902,0.1100)" fill="#262626" stroke="#262626">0.07</text><text transform="translate(151.84,67.63) scale(0.0902,0.1100)" fill="#ffffff" stroke="#ffffff">0.19</text><text transform="translate(166.25,67.63) scale(0.0902,0.1100)" fill="#262626" stroke="#262626">-0.12</text><text transform="translate(180.66,67.63) scale(0.0902,0.1100)" fill="#262626" stroke="#262626">0.10</text><text transform="translate(195.08,67.63) scale(0.0902,0.1100)" fill="#262626" stroke="#262626">0.06</text><text transform="translate(209.49,67.63) scale(0.0902,0.1100)" fill="#262626" stroke="#262626">-0.14</text><text transform="translate(22.11,85.15) scale(0.0902,0.1100)" fill="#ffffff" stroke="#ffffff">0.21</text><text transform="translate(36.52,85.15) scale(0.0902,0.1100)" fill="#262626" stroke="#262626">-0.20</text><text transform="translate(50.94,85.15) scale(0.0902,0.1100)" fill="#262626" stroke="#262626">-0.08</text><text transform="translate(65.35,85.15) scale(0.0902,0.1100)" fill="#262626" stroke="#262626">0.12</text><text transform="translate(79.76,85.15) scale(0.0902,0.1100)" fill="#ffffff" stroke="#ffffff">1.00</text><text transform="translate(94.18,85.15) scale(0.0902,0.1100)" fill="#262626" stroke="#262626">0.01</text><text transform="translate(108.59,85.15) scale(0.0902,0.1100)" fill="#262626" stroke="#262626">-0.15</text><text transform="translate(123.01,85.15) scale(0.0902,0.1100)" fill="#262626" stroke="#262626">-0.01</text><text transform="translate(137.42,85.15) scale(0.0902,0.1100)" fill="#262626" stroke="#262626">0.07</text><text transform="translate(151.84,85.15) scale(0.0902,0.1100)" fill="#262626" stroke="#262626">0.05</text><text transform="translate(166.25,85.15) scale(0.0902,0.1100)" fill="#262626" stroke="#262626">-0.00</text><text transform="translate(180.66,85.15) scale(0.0902,0.1100)" fill="#262626" stroke="#262626">0.07</text><text transform="translate(195.08,85.15) scale(0.0902,0.1100)" fill="#262626" stroke="#262626">0.10</text><text transform="translate(209.49,85.15) scale(0.0902,0.1100)" fill="#262626" stroke="#262626">-0.09</text><text transform="translate(22.11,102.67) scale(0.0902,0.1100)" fill="#262626" stroke="#262626">0.12</text><text transform="translate(36.52,102.67) scale(0.0902,0.1100)" fill="#262626" stroke="#262626">0.05</text><text transform="translate(50.94,102.67) scale(0.0902,0.1100)" fill="#262626" stroke="#262626">0.09</text><text transform="translate(65.35,102.67) scale(0.0902,0.1100)" fill="#ffffff" stroke="#ffffff">0.18</text><text transform="translate(79.76,102.67) scale(0.0902,0.1100)" fill="#262626" stroke="#262626">0.01</text><text transform="translate(94.18,102.67) scale(0.0902,0.1100)" fill="#ffffff" stroke="#ffffff">1.00</text><text transform="translate(108.59,102.67) scale(0.0902,0.1100)" fill="#262626" stroke="#262626">-0.08</text><text transform="translate(123.01,102.67) scale(0.0902,0.1100)" fill="#262626" stroke="#262626">-0.01</text><text transform="translate(137.42,102.67) scale(0.0902,0.1100)" fill="#262626" stroke="#262626">0.03</text><text transform="translate(151.84,102.67) scale(0.0902,0.1100)" fill="#262626" stroke="#262626">0.01</text><text transform="translate(166.25,102.67) scale(0.0902,0.1100)" fill="#262626" stroke="#262626">-0.06</text><text transform="translate(180.66,102.67) scale(0.0902,0.1100)" fill="#262626" stroke="#262626">0.14</text><text transform="translate(195.08,102.67) scale(0.0902,0.1100)" fill="#262626" stroke="#262626">-0.03</text><text transform="translate(209.49,102.67) scale(0.0902,0.1100)" fill="#262626" stroke="#262626">-0.03</text><text transform="translate(22.11,120.19) scale(0.0902,0.1100)" fill="#262626" stroke="#262626">-0.12</text><text transform="translate(36.52,120.19) scale(0.0902,0.1100)" fill="#262626" stroke="#262626">-0.06</text><text transform="translate(50.94,120.19) scale(0.0902,0.1100)" fill="#262626" stroke="#262626">0.04</text><text transform="translate(65.35,120.19) scale(0.0902,0.1100)" fill="#262626" stroke="#262626">-0.11</text><text transform="translate(79.76,120.19) scale(0.0902,0.1100)" fill="#262626" stroke="#262626">-0.15</text><text transform="translate(94.18,120.19) scale(0.0902,0.1100)" fill="#262626" stroke="#262626">-0.08</text><text transform="translate(108.59,120.19) scale(0.0902,0.1100)" fill="#ffffff" stroke="#ffffff">1.00</text><text transform="translate(123.01,120.19) scale(0.0902,0.1100)" fill="#262626" stroke="#262626">0.04</text><text transform="translate(137.42,120.19) scale(0.0902,0.1100)" fill="#262626" stroke="#262626">-0.07</text><text transform="translate(151.84,120.19) scale(0.0902,0.1100)" fill="#262626" stroke="#262626">-0.06</text><text transform="translate(166.25,120.19) scale(0.0902,0.1100)" fill="#262626" stroke="#262626">0.09</text><text transform="translate(180.66,120.19) scale(0.0902,0.1100)" fill="#262626" stroke="#262626">-0.07</text><text transform="translate(195.08,120.19) scale(0.0902,0.1100)" fill="#262626" stroke="#262626">-0.01</text><text transform="translate(209.49,120.19) scale(0.0902,0.1100)" fill="#262626" stroke="#262626">0.14</text><text transform="translate(22.11,137.71) scale(0.0902,0.1100)" fill="#262626" stroke="#262626">-0.40</text><text transform="translate(36.52,137.71) scale(0.0902,0.1100)" fill="#262626" stroke="#262626">-0.04</text><text transform="translate(50.94,137.71) scale(0.0902,0.1100)" fill="#ffffff" stroke="#ffffff">0.30</text><text transform="translate(65.35,137.71) scale(0.0902,0.1100)" fill="#262626" stroke="#262626">-0.05</text><text transform="translate(79.76,137.71) scale(0.0902,0.1100)" fill="#262626" stroke="#262626">-0.01</text><text transform="translate(94.18,137.71) scale(0.0902,0.1100)" fill="#262626" stroke="#262626">-0.01</text><text transform="translate(108.59,137.71) scale(0.0902,0.1100)" fill="#262626" stroke="#262626">0.04</text><text transform="translate(123.01,137.71) scale(0.0902,0.1100)" fill="#ffffff" stroke="#ffffff">1.00</text><text transform="translate(137.42,137.71) scale(0.0902,0.1100)" fill="#262626" stroke="#262626">-0.38</text><text transform="translate(151.84,137.71) scale(0.0902,0.1100)" fill="#262626" stroke="#262626">-0.34</text><text transform="translate(166.25,137.71) scale(0.0902,0.1100)" fill="#ffffff" stroke="#ffffff">0.39</text><text transform="translate(180.66,137.71) scale(0.0902,0.1100)" fill="#262626" stroke="#262626">-0.21</text><text transform="translate(195.08,137.71) scale(0.0902,0.1100)" fill="#262626" stroke="#262626">-0.10</text><text transform="translate(209.49,137.71) scale(0.0902,0.1100)" fill="#ffffff" stroke="#ffffff">0.42</text><text transform="translate(22.11,155.24) scale(0.0902,0.1100)" fill="#262626" stroke="#262626">0.10</text><text transform="translate(36.52,155.24) scale(0.0902,0.1100)" fill="#262626" stroke="#262626">0.14</text><text transform="translate(50.94,155.24) scale(0.0902,0.1100)" fill="#262626" stroke="#262626">-0.39</text><text transform="translate(65.35,155.24) scale(0.0902,0.1100)" fill="#262626" stroke="#262626">0.07</text><text transform="translate(79.76,155.24) scale(0.0902,0.1100)" fill="#262626" stroke="#262626">0.07</text><text transform="translate(94.18,155.24) scale(0.0902,0.1100)" fill="#262626" stroke="#262626">0.03</text><text transform="translate(108.59,155.24) scale(0.0902,0.1100)" fill="#262626" stroke="#262626">-0.07</text><text transform="translate(123.01,155.24) scale(0.0902,0.1100)" fill="#262626" stroke="#262626">-0.38</text><text transform="translate(137.42,155.24) scale(0.0902,0.1100)" fill="#ffffff" stroke="#ffffff">1.00</text><text transform="translate(151.84,155.24) scale(0.0902,0.1100)" fill="#ffffff" stroke="#ffffff">0.29</text><text transform="translate(166.25,155.24) scale(0.0902,0.1100)" fill="#262626" stroke="#262626">-0.26</text><text transform="translate(180.66,155.24) scale(0.0902,0.1100)" fill="#262626" stroke="#262626">0.12</text><text transform="translate(195.08,155.24) scale(0.0902,0.1100)" fill="#ffffff" stroke="#ffffff">0.21</text><text transform="translate(209.49,155.24) scale(0.0902,0.1100)" fill="#262626" stroke="#262626">-0.44</text><text transform="translate(22.11,172.76) scale(0.0902,0.1100)" fill="#ffffff" stroke="#ffffff">0.21</text><text transform="translate(36.52,172.76) scale(0.0902,0.1100)" fill="#262626" stroke="#262626">0.10</text><text transform="translate(50.94,172.76) scale(0.0902,0.1100)" fill="#262626" stroke="#262626">-0.15</text><text transform="translate(65.35,172.76) scale(0.0902,0.1100)" fill="#ffffff" stroke="#ffffff">0.19</text><text transform="translate(79.76,172.76) scale(0.0902,0.1100)" fill="#262626" stroke="#262626">0.05</text><text transform="translate(94.18,172.76) scale(0.0902,0.1100)" fill="#262626" stroke="#262626">0.01</text><text transform="translate(108.59,172.76) scale(0.0902,0.1100)" fill="#262626" stroke="#262626">-0.06</text><text transform="translate(123.01,172.76) scale(0.0902,0.1100)" fill="#262626" stroke="#262626">-0.34</text><text transform="translate(137.42,172.76) scale(0.0902,0.1100)" fill="#ffffff" stroke="#ffffff">0.29</text><text transform="translate(151.84,172.76) scale(0.0902,0.1100)" fill="#ffffff" stroke="#ffffff">1.00</text><text transform="translate(166.25,172.76) scale(0.0902,0.1100)" fill="#262626" stroke="#262626">-0.58</text><text transform="translate(180.66,172.76) scale(0.0902,0.1100)" fill="#ffffff" stroke="#ffffff">0.22</text><text transform="translate(195.08,172.76) scale(0.0902,0.1100)" fill="#ffffff" stroke="#ffffff">0.21</text><text transform="translate(209.49,172.76) scale(0.0902,0.1100)" fill="#262626" stroke="#262626">-0.43</text><text transform="translate(22.11,190.28) scale(0.0902,0.1100)" fill="#262626" stroke="#262626">-0.17</text><text transform="translate(36.52,190.28) scale(0.0902,0.1100)" fill="#262626" stroke="#262626">-0.03</text><text transform="translate(50.94,190.28) scale(0.0902,0.1100)" fill="#262626" stroke="#262626">0.12</text><text transform="translate(65.35,190.28) scale(0.0902,0.1100)" fill="#262626" stroke="#262626">-0.12</text><text transform="translate(79.76,190.28) scale(0.0902,0.1100)" fill="#262626" stroke="#262626">-0.00</text><text transform="translate(94.18,190.28) scale(0.0902,0.1100)" fill="#262626" stroke="#262626">-0.06</text><text transform="translate(108.59,190.28) scale(0.0902,0.1100)" fill="#262626" stroke="#262626">0.09</text><text transform="translate(123.01,190.28) scale(0.0902,0.1100)" fill="#ffffff" stroke="#ffffff">0.39</text><text transform="translate(137.42,190.28) scale(0.0902,0.1100)" fill="#262626" stroke="#262626">-0.26</text><text transform="translate(151.84,190.28) scale(0.0902,0.1100)" fill="#262626" stroke="#262626">-0.58</text><text transform="translate(166.25,190.28) scale(0.0902,0.1100)" fill="#ffffff" stroke="#ffffff">1.00</text><text transform="translate(180.66,190.28) scale(0.0902,0.1100)" fill="#262626" stroke="#262626">-0.08</text><text transform="translate(195.08,190.28) scale(0.0902,0.1100)" fill="#262626" stroke="#262626">-0.10</text><text transform="translate(209.49,190.28) scale(0.0902,0.1100)" fill="#ffffff" stroke="#ffffff">0.35</text><text transform="translate(22.11,207.80) scale(0.0902,0.1100)" fill="#ffffff" stroke="#ffffff">0.28</text><text transform="translate(36.52,207.80) scale(0.0902,0.1100)" fill="#262626" stroke="#262626">0.12</text><text transform="translate(50.94,207.80) scale(0.0902,0.1100)" fill="#262626" stroke="#262626">-0.18</text><text transform="translate(65.35,207.80) scale(0.0902,0.1100)" fill="#262626" stroke="#262626">0.10</text><text transform="translate(79.76,207.80) scale(0.0902,0.1100)" fill="#262626" stroke="#262626">0.07</text><text transform="translate(94.18,207.80) scale(0.0902,0.1100)" fill="#262626" stroke="#262626">0.14</text><text transform="translate(108.59,207.80) scale(0.0902,0.1100)" fill="#262626" stroke="#262626">-0.07</text><text transform="translate(123.01,207.80) scale(0.0902,0.1100)" fill="#262626" stroke="#262626">-0.21</text><text transform="translate(137.42,207.80) scale(0.0902,0.1100)" fill="#262626" stroke="#262626">0.12</text><text transform="translate(151.84,207.80) scale(0.0902,0.1100)" fill="#ffffff" stroke="#ffffff">0.22</text><text transform="translate(166.25,207.80) scale(0.0902,0.1100)" fill="#262626" stroke="#262626">-0.08</text><text transform="translate(180.66,207.80) scale(0.0902,0.1100)" fill="#ffffff" stroke="#ffffff">1.00</text><text transform="translate(195.08,207.80) scale(0.0902,0.1100)" fill="#ffffff" stroke="#ffffff">0.15</text><text transform="translate(209.49,207.80) scale(0.0902,0.1100)" fill="#262626" stroke="#262626">-0.39</text><text transform="translate(22.11,225.32) scale(0.0902,0.1100)" fill="#262626" stroke="#262626">0.07</text><text transform="translate(36.52,225.32) scale(0.0902,0.1100)" fill="#ffffff" stroke="#ffffff">0.21</text><text transform="translate(50.94,225.32) scale(0.0902,0.1100)" fill="#262626" stroke="#262626">-0.16</text><text transform="translate(65.35,225.32) scale(0.0902,0.1100)" fill="#262626" stroke="#262626">0.06</text><text transform="translate(79.76,225.32) scale(0.0902,0.1100)" fill="#262626" stroke="#262626">0.10</text><text transform="translate(94.18,225.32) scale(0.0902,0.1100)" fill="#262626" stroke="#262626">-0.03</text><text transform="translate(108.59,225.32) scale(0.0902,0.1100)" fill="#262626" stroke="#262626">-0.01</text><text transform="translate(123.01,225.32) scale(0.0902,0.1100)" fill="#262626" stroke="#262626">-0.10</text><text transform="translate(137.42,225.32) scale(0.0902,0.1100)" fill="#ffffff" stroke="#ffffff">0.21</text><text transform="translate(151.84,225.32) scale(0.0902,0.1100)" fill="#ffffff" stroke="#ffffff">0.21</text><text transform="translate(166.25,225.32) scale(0.0902,0.1100)" fill="#262626" stroke="#262626">-0.10</text><text transform="translate(180.66,225.32) scale(0.0902,0.1100)" fill="#ffffff" stroke="#ffffff">0.15</text><text transform="translate(195.08,225.32) scale(0.0902,0.1100)" fill="#ffffff" stroke="#ffffff">1.00</text><text transform="translate(209.49,225.32) scale(0.0902,0.1100)" fill="#262626" stroke="#262626">-0.34</text><text transform="translate(22.11,242.84) scale(0.0902,0.1100)" fill="#262626" stroke="#262626">-0.23</text><text transform="translate(36.52,242.84) scale(0.0902,0.1100)" fill="#262626" stroke="#262626">-0.28</text><text transform="translate(50.94,242.84) scale(0.0902,0.1100)" fill="#ffffff" stroke="#ffffff">0.43</text><text transform="translate(65.35,242.84) scale(0.0902,0.1100)" fill="#262626" stroke="#262626">-0.14</text><text transform="translate(79.76,242.84) scale(0.0902,0.1100)" fill="#262626" stroke="#262626">-0.09</text><text transform="translate(94.18,242.84) scale(0.0902,0.1100)" fill="#262626" stroke="#262626">-0.03</text><text transform="translate(108.59,242.84) scale(0.0902,0.1100)" fill="#262626" stroke="#262626">0.14</text><text transform="translate(123.01,242.84) scale(0.0902,0.1100)" fill="#ffffff" stroke="#ffffff">0.42</text><text transform="translate(137.42,242.84) scale(0.0902,0.1100)" fill="#262626" stroke="#262626">-0.44</text><text transform="translate(151.84,242.84) scale(0.0902,0.1100)" fill="#262626" stroke="#262626">-0.43</text><text transform="translate(166.25,242.84) scale(0.0902,0.1100)" fill="#ffffff" stroke="#ffffff">0.35</text><text transform="translate(180.66,242.84) scale(0.0902,0.1100)" fill="#262626" stroke="#262626">-0.39</text><text transform="translate(195.08,242.84) scale(0.0902,0.1100)" fill="#262626" stroke="#262626">-0.34</text><text transform="translate(209.49,242.84) scale(0.0902,0.1100)" fill="#ffffff" stroke="#ffffff">1.00</text></g>
<g class="lab yl"><text transform="translate(11.50,13.96) rotate(-90)">age</text><text transform="translate(11.50,31.48) rotate(-90)">sex</text><text transform="translate(11.50,49.00) rotate(-90)">CP</text><text transform="translate(11.50,66.52) rotate(-90)">trestbps</text><text transform="translate(11.50,84.05) rotate(-90)">chol</text><text transform="translate(11.50,101.57) rotate(-90)">fbs</text><text transform="translate(11.50,119.09) rotate(-90)">restecg</text><text transform="translate(11.50,136.61) rotate(-90)">thalach</text><text transform="translate(11.50,154.13) rotate(-90)">exang</text><text transform="translate(11.50,171.65) rotate(-90)">oldpeak</text><text transform="translate(11.50,189.18) rotate(-90)">slope</text><text transform="translate(11.50,206.70) rotate(-90)">ca</text><text transform="translate(11.50,224.22) rotate(-90)">thal</text><text transform="translate(11.50,241.74) rotate(-90)">target</text></g>
<g class="lab xl"><text transform="translate(22.11,256.00) scale(0.93,1)">age</text><text transform="translate(36.52,256.00) scale(0.93,1)">sex</text><text transform="translate(50.94,256.00) scale(0.93,1)">CP</text><text transform="translate(65.35,256.00) scale(0.93,1)">trestbps</text><text transform="translate(79.76,256.00) scale(0.93,1)">chol</text><text transform="translate(94.18,256.00) scale(0.93,1)">fbs</text><text transform="translate(108.59,256.00) scale(0.93,1)">restecg</text><text transform="translate(123.01,256.00) scale(0.93,1)">thalach</text><text transform="translate(137.42,256.00) scale(0.93,1)">exang</text><text transform="translate(151.84,256.00) scale(0.93,1)">oldpeak</text><text transform="translate(166.25,256.00) scale(0.93,1)">slope</text><text transform="translate(180.66,256.00) scale(0.93,1)">ca</text><text transform="translate(195.08,256.00) scale(0.93,1)">thal</text><text transform="translate(209.49,256.00) scale(0.93,1)">target</text></g>
<g class="cbl"><line x1="241.90" y1="4.60" x2="243.90" y2="4.60" stroke="#262626" stroke-width="0.3"/><text transform="translate(244.90,6.22) scale(0.9,1)">1.0</text><line x1="241.90" y1="35.70" x2="243.90" y2="35.70" stroke="#262626" stroke-width="0.3"/><text transform="translate(244.90,37.32) scale(0.9,1)">0.8</text><line x1="241.90" y1="66.80" x2="243.90" y2="66.80" stroke="#262626" stroke-width="0.3"/><text transform="translate(244.90,68.42) scale(0.9,1)">0.6</text><line x1="241.90" y1="97.90" x2="243.90" y2="97.90" stroke="#262626" stroke-width="0.3"/><text transform="translate(244.90,99.52) scale(0.9,1)">0.4</text><line x1="241.90" y1="129.00" x2="243.90" y2="129.00" stroke="#262626" stroke-width="0.3"/><text transform="translate(244.90,130.62) scale(0.9,1)">0.2</text><line x1="241.90" y1="160.10" x2="243.90" y2="160.10" stroke="#262626" stroke-width="0.3"/><text transform="translate(244.90,161.72) scale(0.9,1)">0.0</text><line x1="241.90" y1="191.20" x2="243.90" y2="191.20" stroke="#262626" stroke-width="0.3"/><text transform="translate(244.90,192.82) scale(0.9,1)">−0.2</text><line x1="241.90" y1="222.30" x2="243.90" y2="222.30" stroke="#262626" stroke-width="0.3"/><text transform="translate(244.90,223.92) scale(0.9,1)">−0.4</text></g>
<g class="ann"><text transform="translate(311.24,15.61) scale(0.0902,0.1100)" fill="#ffffff" stroke="#ffffff">1.00</text><text transform="translate(325.71,15.61) scale(0.0902,0.1100)" fill="#262626" stroke="#262626">-0.09</text><text transform="translate(340.18,15.61) scale(0.0902,0.1100)" fill="#262626" stroke="#262626">0.10</text><text transform="translate(354.65,15.61) scale(0.0902,0.1100)" fill="#ffffff" stroke="#ffffff">0.27</text><text transform="translate(369.12,15.61) scale(0.0902,0.1100)" fill="#262626" stroke="#262626">0.22</text><text transform="translate(383.59,15.61) scale(0.0902,0.1100)" fill="#262626" stroke="#262626">0.12</text><text transform="translate(398.06,15.61) scale(0.0902,0.1100)" fill="#262626" stroke="#262626">0.13</text><text transform="translate(412.54,15.61) scale(0.0902,0.1100)" fill="#262626" stroke="#262626">-0.40</text><text transform="translate(427.01,15.61) scale(0.0902,0.1100)" fill="#262626" stroke="#262626">0.10</text><text transform="translate(441.48,15.61) scale(0.0902,0.1100)" fill="#262626" stroke="#262626">0.19</text><text transform="translate(455.95,15.61) scale(0.0902,0.1100)" fill="#262626" stroke="#262626">0.16</text><text transform="translate(470.42,15.61) scale(0.0902,0.1100)" fill="#ffffff" stroke="#ffffff">0.36</text><text transform="translate(484.89,15.61) scale(0.0902,0.1100)" fill="#262626" stroke="#262626">0.11</text><text transform="translate(499.36,15.61) scale(0.0902,0.1100)" fill="#262626" stroke="#262626">0.21</text><text transform="translate(311.24,33.23) scale(0.0902,0.1100)" fill="#262626" stroke="#262626">-0.09</text><text transform="translate(325.71,33.23) scale(0.0902,0.1100)" fill="#ffffff" stroke="#ffffff">1.00</text><text transform="translate(340.18,33.23) scale(0.0902,0.1100)" fill="#262626" stroke="#262626">0.03</text><text transform="translate(354.65,33.23) scale(0.0902,0.1100)" fill="#262626" stroke="#262626">-0.06</text><text transform="translate(369.12,33.23) scale(0.0902,0.1100)" fill="#262626" stroke="#262626">-0.20</text><text transform="translate(383.59,33.23) scale(0.0902,0.1100)" fill="#262626" stroke="#262626">0.04</text><text transform="translate(398.06,33.23) scale(0.0902,0.1100)" fill="#262626" stroke="#262626">0.04</text><text transform="translate(412.54,33.23) scale(0.0902,0.1100)" fill="#262626" stroke="#262626">-0.08</text><text transform="translate(427.01,33.23) scale(0.0902,0.1100)" fill="#262626" stroke="#262626">0.18</text><text transform="translate(441.48,33.23) scale(0.0902,0.1100)" fill="#262626" stroke="#262626">0.10</text><text transform="translate(455.95,33.23) scale(0.0902,0.1100)" fill="#262626" stroke="#262626">0.05</text><text transform="translate(470.42,33.23) scale(0.0902,0.1100)" fill="#262626" stroke="#262626">0.09</text><text transform="translate(484.89,33.23) scale(0.0902,0.1100)" fill="#ffffff" stroke="#ffffff">0.39</text><text transform="translate(499.36,33.23) scale(0.0902,0.1100)" fill="#ffffff" stroke="#ffffff">0.30</text><text transform="translate(311.24,50.84) scale(0.0902,0.1100)" fill="#262626" stroke="#262626">0.10</text><text transform="translate(325.71,50.84) scale(0.0902,0.1100)" fill="#262626" stroke="#262626">0.03</text><text transform="translate(340.18,50.84) scale(0.0902,0.1100)" fill="#ffffff" stroke="#ffffff">1.00</text><text transform="translate(354.65,50.84) scale(0.0902,0.1100)" fill="#262626" stroke="#262626">-0.04</text><text transform="translate(369.12,50.84) scale(0.0902,0.1100)" fill="#262626" stroke="#262626">0.09</text><text transform="translate(383.59,50.84) scale(0.0902,0.1100)" fill="#262626" stroke="#262626">-0.10</text><text transform="translate(398.06,50.84) scale(0.0902,0.1100)" fill="#262626" stroke="#262626">0.07</text><text transform="translate(412.54,50.84) scale(0.0902,0.1100)" fill="#262626" stroke="#262626">-0.32</text><text transform="translate(427.01,50.84) scale(0.0902,0.1100)" fill="#ffffff" stroke="#ffffff">0.35</text><text transform="translate(441.48,50.84) scale(0.0902,0.1100)" fill="#262626" stroke="#262626">0.17</text><text transform="translate(455.95,50.84) scale(0.0902,0.1100)" fill="#262626" stroke="#262626">0.14</text><text transform="translate(470.42,50.84) scale(0.0902,0.1100)" fill="#262626" stroke="#262626">0.23</text><text transform="translate(484.89,50.84) scale(0.0902,0.1100)" fill="#ffffff" stroke="#ffffff">0.26</text><text transform="translate(499.36,50.84) scale(0.0902,0.1100)" fill="#ffffff" stroke="#ffffff">0.42</text><text transform="translate(311.24,68.45) scale(0.0902,0.1100)" fill="#ffffff" stroke="#ffffff">0.27</text><text transform="translate(325.71,68.45) scale(0.0902,0.1100)" fill="#262626" stroke="#262626">-0.06</text><text transform="translate(340.18,68.45) scale(0.0902,0.1100)" fill="#262626" stroke="#262626">-0.04</text><text transform="translate(354.65,68.45) scale(0.0902,0.1100)" fill="#ffffff" stroke="#ffffff">1.00</text><text transform="translate(369.12,68.45) scale(0.0902,0.1100)" fill="#262626" stroke="#262626">0.17</text><text transform="translate(383.59,68.45) scale(0.0902,0.1100)" fill="#262626" stroke="#262626">0.16</text><text transform="translate(398.06,68.45) scale(0.0902,0.1100)" fill="#262626" stroke="#262626">0.12</text><text transform="translate(412.54,68.45) scale(0.0902,0.1100)" fill="#262626" stroke="#262626">-0.04</text><text transform="translate(427.01,68.45) scale(0.0902,0.1100)" fill="#262626" stroke="#262626">0.08</text><text transform="translate(441.48,68.45) scale(0.0902,0.1100)" fill="#262626" stroke="#262626">0.22</text><text transform="translate(455.95,68.45) scale(0.0902,0.1100)" fill="#262626" stroke="#262626">0.14</text><text transform="translate(470.42,68.45) scale(0.0902,0.1100)" fill="#262626" stroke="#262626">0.09</text><text transform="translate(484.89,68.45) scale(0.0902,0.1100)" fill="#262626" stroke="#262626">0.13</text><text transform="translate(499.36,68.45) scale(0.0902,0.1100)" fill="#262626" stroke="#262626">0.16</text><text transform="translate(311.24,86.07) scale(0.0902,0.1100)" fill="#262626" stroke="#262626">0.22</text><text transform="translate(325.71,86.07) scale(0.0902,0.1100)" fill="#262626" stroke="#262626">-0.20</text><text transform="translate(340.18,86.07) scale(0.0902,0.1100)" fill="#262626" stroke="#262626">0.09</text><text transform="translate(354.65,86.07) scale(0.0902,0.1100)" fill="#262626" stroke="#262626">0.17</text><text transform="translate(369.12,86.07) scale(0.0902,0.1100)" fill="#ffffff" stroke="#ffffff">1.00</text><text transform="translate(383.59,86.07) scale(0.0902,0.1100)" fill="#262626" stroke="#262626">0.03</text><text transform="translate(398.06,86.07) scale(0.0902,0.1100)" fill="#262626" stroke="#262626">0.17</text><text transform="translate(412.54,86.07) scale(0.0902,0.1100)" fill="#262626" stroke="#262626">-0.02</text><text transform="translate(427.01,86.07) scale(0.0902,0.1100)" fill="#262626" stroke="#262626">0.08</text><text transform="translate(441.48,86.07) scale(0.0902,0.1100)" fill="#262626" stroke="#262626">0.03</text><text transform="translate(455.95,86.07) scale(0.0902,0.1100)" fill="#262626" stroke="#262626">-0.01</text><text transform="translate(470.42,86.07) scale(0.0902,0.1100)" fill="#262626" stroke="#262626">0.13</text><text transform="translate(484.89,86.07) scale(0.0902,0.1100)" fill="#262626" stroke="#262626">0.03</text><text transform="translate(499.36,86.07) scale(0.0902,0.1100)" fill="#262626" stroke="#262626">0.12</text><text transform="translate(311.24,103.68) scale(0.0902,0.1100)" fill="#262626" stroke="#262626">0.12</text><text transform="translate(325.71,103.68) scale(0.0902,0.1100)" fill="#262626" stroke="#262626">0.04</text><text transform="translate(340.18,103.68) scale(0.0902,0.1100)" fill="#262626" stroke="#262626">-0.10</text><text transform="translate(354.65,103.68) scale(0.0902,0.1100)" fill="#262626" stroke="#262626">0.16</text><text transform="translate(369.12,103.68) scale(0.0902,0.1100)" fill="#262626" stroke="#262626">0.03</text><text transform="translate(383.59,103.68) scale(0.0902,0.1100)" fill="#ffffff" stroke="#ffffff">1.00</text><text transform="translate(398.06,103.68) scale(0.0902,0.1100)" fill="#262626" stroke="#262626">0.05</text><text transform="translate(412.54,103.68) scale(0.0902,0.1100)" fill="#262626" stroke="#262626">0.02</text><text transform="translate(427.01,103.68) scale(0.0902,0.1100)" fill="#262626" stroke="#262626">-0.00</text><text transform="translate(441.48,103.68) scale(0.0902,0.1100)" fill="#262626" stroke="#262626">-0.03</text><text transform="translate(455.95,103.68) scale(0.0902,0.1100)" fill="#262626" stroke="#262626">0.04</text><text transform="translate(470.42,103.68) scale(0.0902,0.1100)" fill="#262626" stroke="#262626">0.12</text><text transform="translate(484.89,103.68) scale(0.0902,0.1100)" fill="#262626" stroke="#262626">0.05</text><text transform="translate(499.36,103.68) scale(0.0902,0.1100)" fill="#262626" stroke="#262626">-0.02</text><text transform="translate(311.24,121.30) scale(0.0902,0.1100)" fill="#262626" stroke="#262626">0.13</text><text transform="translate(325.71,121.30) scale(0.0902,0.1100)" fill="#262626" stroke="#262626">0.04</text><text transform="translate(340.18,121.30) scale(0.0902,0.1100)" fill="#262626" stroke="#262626">0.07</text><text transform="translate(354.65,121.30) scale(0.0902,0.1100)" fill="#262626" stroke="#262626">0.12</text><text transform="translate(369.12,121.30) scale(0.0902,0.1100)" fill="#262626" stroke="#262626">0.17</text><text transform="translate(383.59,121.30) scale(0.0902,0.1100)" fill="#262626" stroke="#262626">0.05</text><text transform="translate(398.06,121.30) scale(0.0902,0.1100)" fill="#ffffff" stroke="#ffffff">1.00</text><text transform="translate(412.54,121.30) scale(0.0902,0.1100)" fill="#262626" stroke="#262626">-0.07</text><text transform="translate(427.01,121.30) scale(0.0902,0.1100)" fill="#262626" stroke="#262626">0.10</text><text transform="translate(441.48,121.30) scale(0.0902,0.1100)" fill="#262626" stroke="#262626">0.12</text><text transform="translate(455.95,121.30) scale(0.0902,0.1100)" fill="#262626" stroke="#262626">0.16</text><text transform="translate(470.42,121.30) scale(0.0902,0.1100)" fill="#262626" stroke="#262626">0.11</text><text transform="translate(484.89,121.30) scale(0.0902,0.1100)" fill="#262626" stroke="#262626">0.01</text><text transform="translate(499.36,121.30) scale(0.0902,0.1100)" fill="#262626" stroke="#262626">0.18</text><text transform="translate(311.24,138.91) scale(0.0902,0.1100)" fill="#262626" stroke="#262626">-0.40</text><text transform="translate(325.71,138.91) scale(0.0902,0.1100)" fill="#262626" stroke="#262626">-0.08</text><text transform="translate(340.18,138.91) scale(0.0902,0.1100)" fill="#262626" stroke="#262626">-0.32</text><text transform="translate(354.65,138.91) scale(0.0902,0.1100)" fill="#262626" stroke="#262626">-0.04</text><text transform="translate(369.12,138.91) scale(0.0902,0.1100)" fill="#262626" stroke="#262626">-0.02</text><text transform="translate(383.59,138.91) scale(0.0902,0.1100)" fill="#262626" stroke="#262626">0.02</text><text transform="translate(398.06,138.91) scale(0.0902,0.1100)" fill="#262626" stroke="#262626">-0.07</text><text transform="translate(412.54,138.91) scale(0.0902,0.1100)" fill="#ffffff" stroke="#ffffff">1.00</text><text transform="translate(427.01,138.91) scale(0.0902,0.1100)" fill="#262626" stroke="#262626">-0.38</text><text transform="translate(441.48,138.91) scale(0.0902,0.1100)" fill="#262626" stroke="#262626">-0.35</text><text transform="translate(455.95,138.91) scale(0.0902,0.1100)" fill="#262626" stroke="#262626">-0.39</text><text transform="translate(470.42,138.91) scale(0.0902,0.1100)" fill="#262626" stroke="#262626">-0.27</text><text transform="translate(484.89,138.91) scale(0.0902,0.1100)" fill="#262626" stroke="#262626">-0.25</text><text transform="translate(499.36,138.91) scale(0.0902,0.1100)" fill="#262626" stroke="#262626">-0.42</text><text transform="translate(311.24,156.53) scale(0.0902,0.1100)" fill="#262626" stroke="#262626">0.10</text><text transform="translate(325.71,156.53) scale(0.0902,0.1100)" fill="#262626" stroke="#262626">0.18</text><text transform="translate(340.18,156.53) scale(0.0902,0.1100)" fill="#ffffff" stroke="#ffffff">0.35</text><text transform="translate(354.65,156.53) scale(0.0902,0.1100)" fill="#262626" stroke="#262626">0.08</text><text transform="translate(369.12,156.53) scale(0.0902,0.1100)" fill="#262626" stroke="#262626">0.08</text><text transform="translate(383.59,156.53) scale(0.0902,0.1100)" fill="#262626" stroke="#262626">-0.00</text><text transform="translate(398.06,156.53) scale(0.0902,0.1100)" fill="#262626" stroke="#262626">0.10</text><text transform="translate(412.54,156.53) scale(0.0902,0.1100)" fill="#262626" stroke="#262626">-0.38</text><text transform="translate(427.01,156.53) scale(0.0902,0.1100)" fill="#ffffff" stroke="#ffffff">1.00</text><text transform="translate(441.48,156.53) scale(0.0902,0.1100)" fill="#ffffff" stroke="#ffffff">0.27</text><text transform="translate(455.95,156.53) scale(0.0902,0.1100)" fill="#ffffff" stroke="#ffffff">0.26</text><text transform="translate(470.42,156.53) scale(0.0902,0.1100)" fill="#262626" stroke="#262626">0.15</text><text transform="translate(484.89,156.53) scale(0.0902,0.1100)" fill="#ffffff" stroke="#ffffff">0.32</text><text transform="translate(499.36,156.53) scale(0.0902,0.1100)" fill="#ffffff" stroke="#ffffff">0.42</text><text transform="translate(311.24,174.14) scale(0.0902,0.1100)" fill="#262626" stroke="#262626">0.19</text><text transform="translate(325.71,174.14) scale(0.0902,0.1100)" fill="#262626" stroke="#262626">0.10</text><text transform="translate(340.18,174.14) scale(0.0902,0.1100)" fill="#262626" stroke="#262626">0.17</text><text transform="translate(354.65,174.14) scale(0.0902,0.1100)" fill="#262626" stroke="#262626">0.22</text><text transform="translate(369.12,174.14) scale(0.0902,0.1100)" fill="#262626" stroke="#262626">0.03</text><text transform="translate(383.59,174.14) scale(0.0902,0.1100)" fill="#262626" stroke="#262626">-0.03</text><text transform="translate(398.06,174.14) scale(0.0902,0.1100)" fill="#262626" stroke="#262626">0.12</text><text transform="translate(412.54,174.14) scale(0.0902,0.1100)" fill="#262626" stroke="#262626">-0.35</text><text transform="translate(427.01,174.14) scale(0.0902,0.1100)" fill="#ffffff" stroke="#ffffff">0.27</text><text transform="translate(441.48,174.14) scale(0.0902,0.1100)" fill="#ffffff" stroke="#ffffff">1.00</text><text transform="translate(455.95,174.14) scale(0.0902,0.1100)" fill="#ffffff" stroke="#ffffff">0.61</text><text transform="translate(470.42,174.14) scale(0.0902,0.1100)" fill="#ffffff" stroke="#ffffff">0.26</text><text transform="translate(484.89,174.14) scale(0.0902,0.1100)" fill="#ffffff" stroke="#ffffff">0.32</text><text transform="translate(499.36,174.14) scale(0.0902,0.1100)" fill="#ffffff" stroke="#ffffff">0.42</text><text transform="translate(311.24,191.75) scale(0.0902,0.1100)" fill="#262626" stroke="#262626">0.16</text><text transform="translate(325.71,191.75) scale(0.0902,0.1100)" fill="#262626" stroke="#262626">0.05</text><text transform="translate(340.18,191.75) scale(0.0902,0.1100)" fill="#262626" stroke="#262626">0.14</text><text transform="translate(354.65,191.75) scale(0.0902,0.1100)" fill="#262626" stroke="#262626">0.14</text><text transform="translate(369.12,191.75) scale(0.0902,0.1100)" fill="#262626" stroke="#262626">-0.01</text><text transform="translate(383.59,191.75) scale(0.0902,0.1100)" fill="#262626" stroke="#262626">0.04</text><text transform="translate(398.06,191.75) scale(0.0902,0.1100)" fill="#262626" stroke="#262626">0.16</text><text transform="translate(412.54,191.75) scale(0.0902,0.1100)" fill="#262626" stroke="#262626">-0.39</text><text transform="translate(427.01,191.75) scale(0.0902,0.1100)" fill="#ffffff" stroke="#ffffff">0.26</text><text transform="translate(441.48,191.75) scale(0.0902,0.1100)" fill="#ffffff" stroke="#ffffff">0.61</text><text transform="translate(455.95,191.75) scale(0.0902,0.1100)" fill="#ffffff" stroke="#ffffff">1.00</text><text transform="translate(470.42,191.75) scale(0.0902,0.1100)" fill="#262626" stroke="#262626">0.11</text><text transform="translate(484.89,191.75) scale(0.0902,0.1100)" fill="#ffffff" stroke="#ffffff">0.28</text><text transform="translate(499.36,191.75) scale(0.0902,0.1100)" fill="#ffffff" stroke="#ffffff">0.34</text><text transform="translate(311.24,209.37) scale(0.0902,0.1100)" fill="#ffffff" stroke="#ffffff">0.36</text><text transform="translate(325.71,209.37) scale(0.0902,0.1100)" fill="#262626" stroke="#262626">0.09</text><text transform="translate(340.18,209.37) scale(0.0902,0.1100)" fill="#262626" stroke="#262626">0.23</text><text transform="translate(354.65,209.37) scale(0.0902,0.1100)" fill="#262626" stroke="#262626">0.09</text><text transform="translate(369.12,209.37) scale(0.0902,0.1100)" fill="#262626" stroke="#262626">0.13</text><text transform="translate(383.59,209.37) scale(0.0902,0.1100)" fill="#262626" stroke="#262626">0.12</text><text transform="translate(398.06,209.37) scale(0.0902,0.1100)" fill="#262626" stroke="#262626">0.11</text><text transform="translate(412.54,209.37) scale(0.0902,0.1100)" fill="#262626" stroke="#262626">-0.27</text><text transform="translate(427.01,209.37) scale(0.0902,0.1100)" fill="#262626" stroke="#262626">0.15</text><text transform="translate(441.48,209.37) scale(0.0902,0.1100)" fill="#ffffff" stroke="#ffffff">0.26</text><text transform="translate(455.95,209.37) scale(0.0902,0.1100)" fill="#262626" stroke="#262626">0.11</text><text transform="translate(470.42,209.37) scale(0.0902,0.1100)" fill="#ffffff" stroke="#ffffff">1.00</text><text transform="translate(484.89,209.37) scale(0.0902,0.1100)" fill="#ffffff" stroke="#ffffff">0.26</text><text transform="translate(499.36,209.37) scale(0.0902,0.1100)" fill="#ffffff" stroke="#ffffff">0.46</text><text transform="translate(311.24,226.98) scale(0.0902,0.1100)" fill="#262626" stroke="#262626">0.11</text><text transform="translate(325.71,226.98) scale(0.0902,0.1100)" fill="#ffffff" stroke="#ffffff">0.39</text><text transform="translate(340.18,226.98) scale(0.0902,0.1100)" fill="#ffffff" stroke="#ffffff">0.26</text><text transform="translate(354.65,226.98) scale(0.0902,0.1100)" fill="#262626" stroke="#262626">0.13</text><text transform="translate(369.12,226.98) scale(0.0902,0.1100)" fill="#262626" stroke="#262626">0.03</text><text transform="translate(383.59,226.98) scale(0.0902,0.1100)" fill="#262626" stroke="#262626">0.05</text><text transform="translate(398.06,226.98) scale(0.0902,0.1100)" fill="#262626" stroke="#262626">0.01</text><text transform="translate(412.54,226.98) scale(0.0902,0.1100)" fill="#262626" stroke="#262626">-0.25</text><text transform="translate(427.01,226.98) scale(0.0902,0.1100)" fill="#ffffff" stroke="#ffffff">0.32</text><text transform="translate(441.48,226.98) scale(0.0902,0.1100)" fill="#ffffff" stroke="#ffffff">0.32</text><text transform="translate(455.95,226.98) scale(0.0902,0.1100)" fill="#ffffff" stroke="#ffffff">0.28</text><text transform="translate(470.42,226.98) scale(0.0902,0.1100)" fill="#ffffff" stroke="#ffffff">0.26</text><text transform="translate(484.89,226.98) scale(0.0902,0.1100)" fill="#ffffff" stroke="#ffffff">1.00</text><text transform="translate(499.36,226.98) scale(0.0902,0.1100)" fill="#ffffff" stroke="#ffffff">0.53</text><text transform="translate(311.24,244.60) scale(0.0902,0.1100)" fill="#262626" stroke="#262626">0.21</text><text transform="translate(325.71,244.60) scale(0.0902,0.1100)" fill="#ffffff" stroke="#ffffff">0.30</text><text transform="translate(340.18,244.60) scale(0.0902,0.1100)" fill="#ffffff" stroke="#ffffff">0.42</text><text transform="translate(354.65,244.60) scale(0.0902,0.1100)" fill="#262626" stroke="#262626">0.16</text><text transform="translate(369.12,244.60) scale(0.0902,0.1100)" fill="#262626" stroke="#262626">0.12</text><text transform="translate(383.59,244.60) scale(0.0902,0.1100)" fill="#262626" stroke="#262626">-0.02</text><text transform="translate(398.06,244.60) scale(0.0902,0.1100)" fill="#262626" stroke="#262626">0.18</text><text transform="translate(412.54,244.60) scale(0.0902,0.1100)" fill="#262626" stroke="#262626">-0.42</text><text transform="translate(427.01,244.60) scale(0.0902,0.1100)" fill="#ffffff" stroke="#ffffff">0.42</text><text transform="translate(441.48,244.60) scale(0.0902,0.1100)" fill="#ffffff" stroke="#ffffff">0.42</text><text transform="translate(455.95,244.60) scale(0.0902,0.1100)" fill="#ffffff" stroke="#ffffff">0.34</text><text transform="translate(470.42,244.60) scale(0.0902,0.1100)" fill="#ffffff" stroke="#ffffff">0.46</text><text transform="translate(484.89,244.60) scale(0.0902,0.1100)" fill="#ffffff" stroke="#ffffff">0.53</text><text transform="translate(499.36,244.60) scale(0.0902,0.1100)" fill="#ffffff" stroke="#ffffff">1.00</text></g>
<g class="lab yl"><text transform="translate(300.70,14.51) rotate(-90)">age</text><text transform="translate(300.70,32.12) rotate(-90)">sex</text><text transform="translate(300.70,49.74) rotate(-90)">CP</text><text transform="translate(300.70,67.35) rotate(-90)">trestbps</text><text transform="translate(300.70,84.96) rotate(-90)">chol</text><text transform="translate(300.70,102.58) rotate(-90)">fbs</text><text transform="translate(300.70,120.19) rotate(-90)">restecg</text><text transform="translate(300.70,137.81) rotate(-90)">thalach</text><text transform="translate(300.70,155.42) rotate(-90)">exang</text><text transform="translate(300.70,173.04) rotate(-90)">oldpeak</text><text transform="translate(300.70,190.65) rotate(-90)">slope</text><text transform="translate(300.70,208.26) rotate(-90)">ca</text><text transform="translate(300.70,225.88) rotate(-90)">thal</text><text transform="translate(300.70,243.49) rotate(-90)">target</text></g>
<g class="lab xl"><text transform="translate(311.24,258.00) scale(0.93,1)">age</text><text transform="translate(325.71,258.00) scale(0.93,1)">sex</text><text transform="translate(340.18,258.00) scale(0.93,1)">CP</text><text transform="translate(354.65,258.00) scale(0.93,1)">trestbps</text><text transform="translate(369.12,258.00) scale(0.93,1)">chol</text><text transform="translate(383.59,258.00) scale(0.93,1)">fbs</text><text transform="translate(398.06,258.00) scale(0.93,1)">restecg</text><text transform="translate(412.54,258.00) scale(0.93,1)">thalach</text><text transform="translate(427.01,258.00) scale(0.93,1)">exang</text><text transform="translate(441.48,258.00) scale(0.93,1)">oldpeak</text><text transform="translate(455.95,258.00) scale(0.93,1)">slope</text><text transform="translate(470.42,258.00) scale(0.93,1)">ca</text><text transform="translate(484.89,258.00) scale(0.93,1)">thal</text><text transform="translate(499.36,258.00) scale(0.93,1)">target</text></g>
<g class="cbl"><line x1="531.80" y1="5.60" x2="533.80" y2="5.60" stroke="#262626" stroke-width="0.3"/><text transform="translate(534.80,7.22) scale(0.9,1)">1.0</text><line x1="531.80" y1="40.35" x2="533.80" y2="40.35" stroke="#262626" stroke-width="0.3"/><text transform="translate(534.80,41.97) scale(0.9,1)">0.8</text><line x1="531.80" y1="75.09" x2="533.80" y2="75.09" stroke="#262626" stroke-width="0.3"/><text transform="translate(534.80,76.71) scale(0.9,1)">0.6</text><line x1="531.80" y1="109.84" x2="533.80" y2="109.84" stroke="#262626" stroke-width="0.3"/><text transform="translate(534.80,111.46) scale(0.9,1)">0.4</text><line x1="531.80" y1="144.58" x2="533.80" y2="144.58" stroke="#262626" stroke-width="0.3"/><text transform="translate(534.80,146.20) scale(0.9,1)">0.2</text><line x1="531.80" y1="179.33" x2="533.80" y2="179.33" stroke="#262626" stroke-width="0.3"/><text transform="translate(534.80,180.95) scale(0.9,1)">0.0</text><line x1="531.80" y1="214.07" x2="533.80" y2="214.07" stroke="#262626" stroke-width="0.3"/><text transform="translate(534.80,215.69) scale(0.9,1)">−0.2</text><line x1="531.80" y1="248.82" x2="533.80" y2="248.82" stroke="#262626" stroke-width="0.3"/><text transform="translate(534.80,250.44) scale(0.9,1)">−0.4</text></g>
</g>
<g>
<text class="par" x="125.9" y="273.5">(</text><text class="cap" transform="translate(129.7,273.6) scale(0.87,1)">a</text><text class="par" x="135.1" y="273.5">)</text>
<text class="par" x="413.9" y="273.5">(</text><text class="cap" transform="translate(418.1,273.6) scale(0.87,1)">b</text><text class="par" x="424.7" y="273.5">)</text>
</g>
<rect x="256.2" y="257.8" width="1.7" height="1.1" fill="#111"/>
</svg></div>
</body></html>
